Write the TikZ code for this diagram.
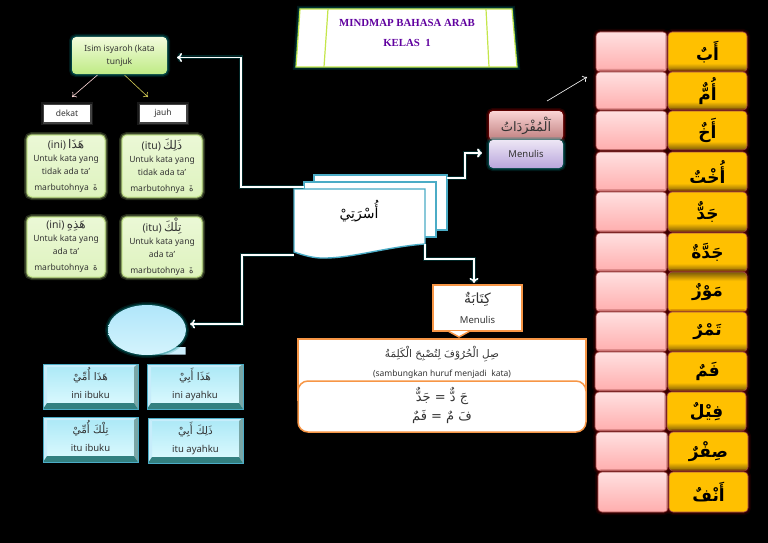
\documentclass[tikz,border=0pt]{standalone}
\usepackage{fontspec}
\setmainfont{Noto Sans}
\newfontfamily\arabicfont[Script=Arabic]{DejaVu Sans}
\newfontfamily\titlefont{Liberation Serif}
\TeXXeTstate=1
\usetikzlibrary{calc,arrows.meta,shapes.geometric}
\definecolor{barbrown}{HTML}{7A5A08}
\definecolor{baryellow}{HTML}{FFC000}
\definecolor{orangeedge}{HTML}{F79646}
\definecolor{pageedge}{HTML}{4BACC6}
\definecolor{limeedge}{HTML}{C4E64A}
\definecolor{rulegreen}{HTML}{C6E68E}
\pgfdeclareverticalshading{barshade}{100bp}{color(0bp)=(barbrown); color(25bp)=(barbrown); color(36bp)=(baryellow); color(100bp)=(baryellow)}
\newcommand{\arab}[2][10.5]{{\arabicfont\fontsize{#1}{13}\selectfont\beginR #2\endR}}
\tikzset{
  glow/.style={preaction={draw=#1,line width=6pt,opacity=.2},preaction={draw=#1,line width=3pt,opacity=.4}},
  conn/.style={draw=white,line width=1.5pt,-{To[length=5pt,width=9pt]},preaction={draw=teal,line width=4pt,opacity=.3}},
  thinconn/.style={line width=.6pt,-{To[length=4pt,width=7pt]}},
  boxtext/.style={align=center,text=black!80,inner sep=0pt,outer sep=0pt,font=\fontsize{8.5}{13}\selectfont},
  isimbox/.style={boxtext,rounded corners=4pt,top color={rgb,255:red,242;green,251;blue,220},bottom color={rgb,255:red,191;green,235;blue,133},glow=teal},
  sidetag/.style={boxtext,fill=white,glow=gray},
  ruleboxgreen/.style={boxtext,rounded corners=5pt,top color={rgb,255:red,235;green,248;blue,214},bottom color={rgb,255:red,222;green,243;blue,190},glow=rulegreen,draw=rulegreen,line width=1pt},
  menuliscolor/.style={boxtext,rounded corners=4pt,top color={rgb,255:red,237;green,230;blue,245},bottom color={rgb,255:red,185;green,166;blue,220},glow=teal,font=\fontsize{9.5}{13}\selectfont},
  mufradatcolor/.style={boxtext,rounded corners=4pt,top color={rgb,255:red,250;green,212;blue,212},bottom color={rgb,255:red,192;green,128;blue,128},glow=red!70!black},
  orangeline/.style={draw=orangeedge,line width=1.5pt},
  calloutbox/.style={boxtext,fill=white,orangeline,font=\fontsize{9.5}{20}\selectfont},
  bevelbox/.style={boxtext,top color={rgb,255:red,170;green,232;blue,246},bottom color={rgb,255:red,224;green,251;blue,255},draw=pageedge,line width=.5pt,font=\fontsize{9.5}{18}\selectfont,text depth=7pt,
    path picture={
      \coordinate (NW) at (path picture bounding box.north west);
      \coordinate (NE) at (path picture bounding box.north east);
      \coordinate (SE) at (path picture bounding box.south east);
      \coordinate (SW) at (path picture bounding box.south west);
      \fill[cyan!22!white] (NW) -- (NE) -- ($(NE)+(-4,3)$) -- ($(NW)+(4,3)$) -- cycle;
      \fill[cyan!22!white] (NW) -- (SW) -- ($(SW)+(4,-6)$) -- ($(NW)+(4,3)$) -- cycle;
      \fill[teal!50!gray!70!white] (NE) -- (SE) -- ($(SE)+(-4,-6)$) -- ($(NE)+(-4,3)$) -- cycle;
      \fill[teal!60!gray] (SW) -- (SE) -- ($(SE)+(-4,-6)$) -- ($(SW)+(4,-6)$) -- cycle;
    }},
  pagesheet/.style={fill=white,draw=pageedge,line width=1.4pt,inner sep=0pt,outer sep=0pt},
  pinkbar/.style={inner sep=0pt,outer sep=0pt,rounded corners=4pt,top color=red!12!white,bottom color=red!32!white,draw=red!50!black!70!white,line width=.6pt},
  barbottom/.style={shading=barshade},
  bartop/.style={shading=barshade,shading angle=180},
  barflat/.style={fill=baryellow},
  wordbar/.style={inner sep=0pt,outer sep=0pt,rounded corners=4pt,draw=red!50!black!70!white,line width=.6pt,text=black,font=\arabicfont\bfseries\fontsize{17}{17}\selectfont}
}
% box given by its two corners
\newcommand{\infobox}[7]{
    \pgfmathsetmacro{\boxX}{(#1+#3)/2}
    \pgfmathsetmacro{\boxY}{(#2+#4)/2}
    \pgfmathsetmacro{\boxW}{#3-#1}
    \pgfmathsetmacro{\boxH}{#4-#2}
    \draw (\boxX,\boxY) node[#6, minimum width=\boxW pt, minimum height=\boxH pt] (#5) {#7};
}
\begin{document}
\begin{tikzpicture}[x=1pt,y=-1pt]
    \fill[black] (0,0) rectangle (768,543);
    \useasboundingbox (0,0) rectangle (768,543);

    % Title sheet
    \draw[fill=white,draw=limeedge,line width=1.2pt,glow=teal] (300,9) -- (512,9) -- (517,67) -- (296,67) -- cycle;
    \draw[draw=limeedge,line width=1.2pt] (328,9) -- (324,67) (486,9) -- (489,67);
    \node[text=violet!75!blue,font=\titlefont\bfseries\fontsize{10.8}{11}\selectfont] (titleA) at (407,23) {MINDMAP BAHASA ARAB};
    \node[text=violet!75!blue,font=\titlefont\bfseries\fontsize{10.8}{11}\selectfont] (titleB) at (407,43) {KELAS\ \ 1};

    % Kata tunjuk
    \infobox{72}{37}{167}{74}{isim}{isimbox}{Isim isyaroh (kata\\tunjuk}
    \infobox{44}{105}{90}{122}{dekat}{sidetag}{dekat}
    \infobox{140}{105}{186}{122}{jauh}{sidetag}{jauh}
    \infobox{27}{135}{105}{197}{ruleA}{ruleboxgreen}{{\fontsize{10.5}{10}\selectfont (ini)} \arab[12]{هَذَا}\\Untuk kata yang\\tidak ada ta'\\[3pt]marbutohnya\ \ \arab[8.5]{ةَ}}
    \infobox{122}{135}{202}{197}{ruleB}{ruleboxgreen}{{\fontsize{10.5}{10}\selectfont (itu)} \arab[12]{ذَلِكَ}\\Untuk kata yang\\tidak ada ta'\\[3pt]marbutohnya\ \ \arab[8.5]{ةَ}}
    \infobox{27}{217}{105}{277}{ruleC}{ruleboxgreen}{{\fontsize{10.5}{10}\selectfont (ini)} \arab[12]{هَذِهِ}\\Untuk kata yang\\ada ta'\\[3pt]marbutohnya\ \ \arab[8.5]{ةَ}}
    \infobox{122}{217}{202}{277}{ruleD}{ruleboxgreen}{{\fontsize{10.5}{10}\selectfont (itu)} \arab[12]{تِلْكَ}\\Untuk kata yang\\ada ta'\\[3pt]marbutohnya\ \ \arab[8.5]{ةَ}}
    \draw[thinconn,draw=red!15!white] ($(isim.south)+(-22,1)$) -- ($(dekat.north)+(5,-8)$);
    \draw[thinconn,draw=yellow!60!gray] ($(isim.south)+(5,1)$) -- ($(jauh.north)+(-15,-8)$);

    % Pages
    \infobox{314}{175}{447}{230}{pageback}{pagesheet}{}
    \infobox{304}{182}{436}{237}{pagemid}{pagesheet}{}
    \infobox{294}{189}{425}{255}{pagefront}{draw=none,inner sep=0pt,outer sep=0pt}{}
    \draw[pagesheet] (294,189) -- (425,189) -- (425,244) .. controls (385,247) and (350,259) .. (320,258) .. controls (310,257.5) and (300,254) .. (294,252) -- cycle;
    \node[inner sep=0pt,font=\arabicfont\fontsize{14}{14}\selectfont] (family) at (359,211) {\beginR أُسْرَتِيْ\endR};

    % Bubble
    \fill[cyan!20!white] (160,350) -- (174,347) -- (185.5,347) -- (185.5,354.5) -- (140,354.5) -- cycle;
    \node[ellipse,inner sep=0pt,outer sep=0pt,minimum width=78pt,minimum height=50pt,top color={rgb,255:red,176;green,230;blue,250},bottom color={rgb,255:red,212;green,244;blue,253},glow=teal] (bubble) at (147,330) {};

    % Sentences
    \infobox{43}{364}{138}{409}{ibuA}{bevelbox}{\arab{هَذَا أُمِّيْ}\\ini ibuku}
    \infobox{147}{364}{243}{409}{ayahA}{bevelbox}{\arab{هَذَا أَبِيْ}\\ini ayahku}
    \infobox{43}{417}{138}{462}{ibuB}{bevelbox}{\arab{تِلْكَ أُمِّيْ}\\itu ibuku}
    \infobox{148}{418}{243}{463}{ayahB}{bevelbox}{\arab{ذَلِكَ أَبِيْ}\\itu ayahku}

    % Vocabulary heading
    \infobox{489}{111}{563}{140}{mufradat}{mufradatcolor}{\arabicfont\fontsize{13}{13}\selectfont\beginR اَلْمُفْرَدَاتُ\endR}
    \infobox{489}{140}{563}{168}{menulis}{menuliscolor}{Menulis}

    % Writing exercise
    \infobox{298}{339}{586}{400}{exercise}{calloutbox}{}
    \infobox{298}{341}{586}{384}{exercisehead}{boxtext,font=\fontsize{8.5}{19}\selectfont}{\arab{صِلِ الْحُرُوْفَ لِتُصْبِحَ الْكَلِمَةُ}\\(sambungkan huruf menjadi\ \ kata)}
    \infobox{298}{381}{586}{432}{examples}{calloutbox,rounded corners=10pt,font=\fontsize{9}{19}\selectfont,text depth=5pt}{\arab[13]{جَ دٌّ = جَدٌّ}\\\arab[13]{فَ مٌ = فَمٌ}}
    \infobox{433}{285}{522}{331}{kitabah}{calloutbox}{\arab[14]{كِتَابَةٌ}\\Menulis}
    \draw[fill=white,orangeline] ($(kitabah.south)+(-29.5,0)$) -- ($(kitabah.south)+(-18.5,6)$) -- ($(kitabah.south)+(-7.5,0)$);

    % Word rows
    \foreach \ii/\ya/\yb/\xa/\xb/\barkind/\word in {
        1/32/72/596/667/barbottom/أَبٌ,
        2/72/110/596/667/barbottom/أُمٌّ,
        3/111/150/596/667/barbottom/أَخٌ,
        4/152/192/596/667/barbottom/أُخْتٌ,
        5/192/232/596/667/barbottom/جَدٌّ,
        6/233/272/596/667/barbottom/جَدَّةٌ,
        7/272/312/596/667/bartop/مَوْزٌ,
        8/312/352/596/667/barbottom/تَمْرٌ,
        9/352/391/595/667/barbottom/فَمٌ,
        10/392/431/595/666/barbottom/فِيْلٌ,
        11/432/471/596/668/barbottom/صِفْرٌ,
        12/472/512/598/668/barflat/أَنْفٌ}{
        \pgfmathsetmacro{\xc}{\xb+1}
        \pgfmathsetmacro{\xd}{\xb+80}
        \infobox{\xa}{\ya}{\xb}{\yb}{pink\ii}{pinkbar,glow=red!40!black}{}
        \infobox{\xc}{\ya}{\xd}{\yb}{word\ii}{wordbar,\barkind,glow=red!40!black}{\beginR\word\endR}
    }

    % Connectors
    \coordinate (turnA) at (241,57.5);
    \coordinate (turnB) at (242,324);
    \coordinate (turnC) at (465,153);
    \coordinate (turnD) at (474,259);
    \draw[conn,shorten >=10pt] ($(pagemid.north west)+(0,5)$) -| (turnA) -- (isim.east |- turnA);
    \draw[conn,shorten >=4pt] (pagefront.south west) -| (turnB) -- (bubble.east |- turnB);
    \draw[conn,line width=2pt,shorten >=7pt] ($(pageback.north east)+(0,3)$) -| (turnC) -- (menulis.west |- turnC);
    \draw[conn,shorten >=2pt] ($(pagefront.south east)+(0,-11)$) |- (turnD) -- (kitabah.north -| turnD);
    \draw[thinconn,draw=white] ($(mufradat.north)+(21,-10)$) -- ($(pink1.west)+(-9,25)$);
\end{tikzpicture}
\end{document}
